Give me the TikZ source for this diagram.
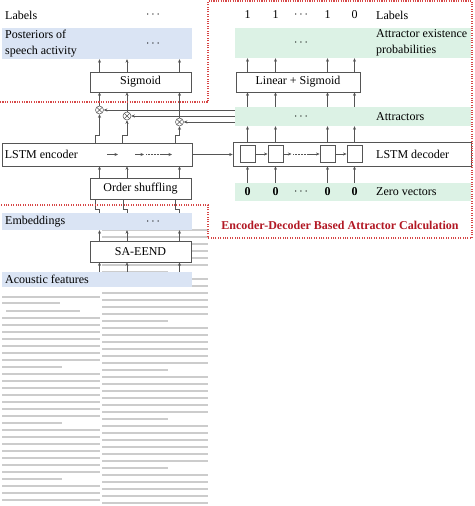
\documentclass[tikz,border=0pt]{standalone}
\usepackage{fontspec}
\setmainfont{Liberation Serif}
\usetikzlibrary{arrows.meta, positioning, calc}
\definecolor{postblue}{RGB}{218,228,244}
\definecolor{attrgreen}{RGB}{220,242,229}
\definecolor{edared}{RGB}{178,24,36}
\definecolor{edadot}{RGB}{214,70,70}
\definecolor{boxgray}{RGB}{85,85,85}

\begin{document}
\begin{tikzpicture}[x=1pt, y=-1pt,
    every node/.style={font=\fontsize{12}{16}\selectfont},
    band/.style={fill=#1, draw=none, inner sep=0pt},
    blk/.style={draw=boxgray, fill=white, inner sep=0pt, line width=0.6pt},
    cell/.style={draw=boxgray, fill=white, line width=0.9pt, minimum width=15pt,
                 minimum height=17pt, inner sep=0pt},
    mul/.style={circle, draw=boxgray, fill=white, minimum size=8pt, inner sep=0pt,
                line width=0.5pt,
                path picture={\draw[boxgray, line width=0.5pt]
                  (path picture bounding box.north west) -- (path picture bounding box.south east)
                  (path picture bounding box.north east) -- (path picture bounding box.south west);}},
    lbl/.style={anchor=west, inner sep=0pt, align=left},
    arr/.style={-{Stealth[length=3.5pt, width=3pt]}, boxgray, line width=0.5pt},
    wire/.style={boxgray, line width=0.5pt},
    page/.style={black!20, line width=1.3pt}
  ]
    \useasboundingbox (0,0) rectangle (474,506);
    \fill[white] (0,0) rectangle (474,506);

    % paper text behind the figure
    \foreach \y [count=\i] in {230,237,...,503}{
      \pgfmathsetmacro{\xe}{mod(\i,7)==0 ? 168 : 208}
      \draw[page] (102,\y) -- (\xe,\y);
    }
    \draw[page] (2,297) -- (100,297);
    \draw[page] (2,303) -- (60,303);
    \draw[page] (6,311) -- (80,311);
    \foreach \y [count=\i] in {318,325,...,503}{
      \pgfmathsetmacro{\xe}{mod(\i,8)==0 ? 62 : 100}
      \draw[page] (2,\y) -- (\xe,\y);
    }

    % bands
    \node[band=postblue, minimum width=190pt, minimum height=31pt] (post) at (97,43.5) {};
    \node[band=postblue, minimum width=190pt, minimum height=17pt] (emb)  at (97,221.5) {};
    \node[band=postblue, minimum width=190pt, minimum height=15pt] (feat) at (97,279.5) {};
    \node[band=attrgreen, minimum width=236pt, minimum height=30pt] (exist) at (353,43) {};
    \node[band=attrgreen, minimum width=236pt, minimum height=19pt] (attr)  at (353,116.5) {};
    \node[band=attrgreen, minimum width=236pt, minimum height=18pt] (zero)  at (353,192) {};

    % blocks
    \node[blk, minimum width=101pt, minimum height=20pt] (sigm)    at (140.5,82)    {Sigmoid};
    \node[blk, minimum width=124pt, minimum height=20pt] (linsig)  at (298,82)      {Linear + Sigmoid};
    \node[blk, minimum width=190pt, minimum height=23pt] (enc)     at (97,154.5)    {};
    \node[blk, minimum width=238pt, minimum height=24pt] (dec)     at (352,154)     {};
    \node[blk, minimum width=101pt, minimum height=21pt] (shuffle) at (140.5,188.5) {Order shuffling};
    \node[blk, minimum width=101pt, minimum height=21pt] (saeend)  at (140.5,251.5) {SA-EEND};

    % texts
    \node[lbl] at (5,15)  {Labels};
    \node[lbl] at (5,43.5) {Posteriors of\\speech activity};
    \node[lbl] at ($(enc.west)+(3,0)$) {LSTM encoder};
    \node[lbl] at (5,221.5) {Embeddings};
    \node[lbl] at (5,279.5) {Acoustic features};
    \node[lbl] at (376,15)  {Labels};
    \node[lbl] at (376,43)  {Attractor existence\\probabilities};
    \node[lbl] at (376,116.5) {Attractors};
    \node[lbl] at (376,154)   {LSTM decoder};
    \node[lbl] at (376,192)   {Zero vectors};
    \foreach \x/\y in {153/15, 153/43.5, 153/221.5, 301/15, 301/43, 301/116.5, 301/192}
      \node at (\x,\y) {$\cdots$};

    % encoder side
    \foreach \x/\y [count=\i] in {99.5/110, 127/116, 179.5/122}{
      \node[mul] (m\i) at (\x,\y) {};
      \draw[arr] (m\i) -- (m\i |- sigm.south);
      \draw[arr] (sigm.north -| m\i) -- (post.south -| m\i);
      \draw[arr] (attr.west |- m\i) -- (m\i);
      \draw[arr] ($(enc.north -| m\i)+(-4.5,0)$) -- ++(0,-7) -- ++(4.5,0) -- (m\i.south);
      \draw[arr] (shuffle.north -| m\i) -- (enc.south -| m\i);
      \draw[wire] (emb.north -| m\i) -- ++(0,-3.5) -- ++(-4,0) -- ($(shuffle.south -| m\i)+(-4,0)$);
      \draw[arr] (saeend.north -| m\i) -- (emb.south -| m\i);
      \draw[arr] (feat.north -| m\i) -- (saeend.south -| m\i);
    }
    \draw[arr] (107,154.5) -- (118,154.5);
    \draw[arr] (135,154.5) -- (144,154.5);
    \draw[wire, densely dotted] (146,154.5) -- (160,154.5);
    \draw[arr] (160,154.5) -- (172,154.5);
    \draw[arr] (enc.east) -- (dec.west |- enc.east);

    % decoder side
    \foreach \x/\lab [count=\i] in {247.5/1, 275.5/1, 327.5/1, 354.5/0}{
      \node[cell] (c\i) at (\x,154) {};
      \node (lb\i) at (\x,15) {\lab};
      \node[font=\fontsize{12}{16}\selectfont\bfseries] (zv\i) at (c\i |- zero) {0};
      \draw[arr] (zero.north -| c\i) -- (c\i |- dec.south);
      \draw[arr] (dec.north -| c\i) -- (attr.south -| c\i);
      \draw[arr] (attr.north -| c\i) -- (linsig.south -| c\i);
      \draw[arr] (linsig.north -| c\i) -- (exist.south -| c\i);
    }
    \draw[arr] (c1) -- (c2);
    \draw[arr] (c3) -- (c4);
    \draw[arr] (c2.east) -- ++(8,0) coordinate (d1);
    \draw[wire, densely dotted] ($(d1)+(2,0)$) -- ++(14,0) coordinate (d2);
    \draw[arr] (d2) -- (c3.west);

    % attractor calculation frame
    \draw[edadot, line width=1.1pt, dash pattern=on 1.1pt off 1.3pt]
      (0,102) -- (208,102) -- (208,1) -- (472,1) -- (472,238) -- (208,238) -- (208,205) -- (0,205);
    \node[font=\fontsize{12}{16}\selectfont\bfseries, text=edared] (title) at (340,225)
      {Encoder-Decoder Based Attractor Calculation};
\end{tikzpicture}
\end{document}
